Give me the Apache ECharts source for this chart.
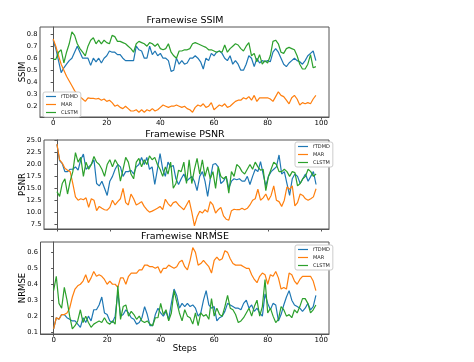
<!DOCTYPE html>
<html><head><meta charset="utf-8">
<script src="https://cdn.jsdelivr.net/npm/echarts@6/dist/echarts.min.js"></script>
<style>html,body{margin:0;padding:0;background:#fff}#c{width:474px;height:362px}</style>
</head><body><div id="c"></div>
<script>
const seriesNames = ['fTDMD', 'MAR', 'CLSTM'];
const xTicks = [0, 20, 40, 60, 80, 100];
const ssimTicks = [0.2, 0.3, 0.4, 0.5, 0.6, 0.7, 0.8];
const psnrTicks = [7.5, 10.0, 12.5, 15.0, 17.5, 20.0, 22.5, 25.0];
const nrmseTicks = [0.1, 0.2, 0.3, 0.4, 0.5, 0.6];

const ssimTDMD = [0.75,0.68,0.58,0.48,0.52,0.55,0.58,0.6,0.65,0.7,
0.65,0.6,0.6,0.6,0.54,0.6,0.57,0.6,0.56,0.6,
0.62,0.66,0.65,0.65,0.63,0.63,0.6,0.58,0.58,0.58,
0.58,0.7,0.67,0.66,0.6,0.6,0.7,0.63,0.66,0.62,
0.64,0.6,0.6,0.58,0.49,0.5,0.6,0.55,0.58,0.55,
0.56,0.6,0.6,0.62,0.6,0.57,0.51,0.6,0.58,0.64,
0.62,0.65,0.66,0.64,0.6,0.58,0.62,0.55,0.58,0.55,
0.5,0.5,0.55,0.62,0.6,0.53,0.6,0.56,0.58,0.57,
0.58,0.57,0.65,0.68,0.65,0.6,0.55,0.53,0.56,0.58,
0.6,0.58,0.57,0.55,0.58,0.62,0.64,0.66,0.58];
const ssimMAR = [0.76,0.7,0.62,0.55,0.5,0.45,0.41,0.37,0.33,0.3,
0.28,0.26,0.24,0.27,0.265,0.265,0.26,0.265,0.25,0.26,
0.24,0.25,0.23,0.2,0.21,0.19,0.18,0.2,0.18,0.16,
0.16,0.17,0.15,0.17,0.15,0.17,0.16,0.18,0.16,0.17,
0.19,0.21,0.2,0.19,0.2,0.2,0.21,0.2,0.19,0.2,
0.18,0.17,0.15,0.19,0.21,0.2,0.22,0.19,0.2,0.23,
0.17,0.19,0.21,0.2,0.22,0.19,0.2,0.22,0.24,0.25,
0.25,0.27,0.26,0.28,0.25,0.29,0.24,0.27,0.27,0.27,
0.27,0.26,0.24,0.28,0.32,0.29,0.28,0.25,0.22,0.27,
0.29,0.26,0.21,0.23,0.22,0.23,0.22,0.26,0.29];
const ssimCLSTM = [0.59,0.59,0.65,0.67,0.56,0.65,0.72,0.82,0.79,0.72,
0.68,0.65,0.62,0.7,0.75,0.77,0.72,0.75,0.72,0.75,
0.73,0.72,0.79,0.78,0.74,0.74,0.73,0.72,0.7,0.68,
0.65,0.72,0.74,0.73,0.72,0.7,0.73,0.72,0.7,0.72,
0.68,0.67,0.68,0.72,0.65,0.62,0.6,0.66,0.66,0.67,
0.67,0.68,0.72,0.73,0.72,0.71,0.7,0.69,0.67,0.67,
0.66,0.65,0.66,0.65,0.71,0.65,0.68,0.7,0.72,0.71,
0.68,0.66,0.7,0.73,0.62,0.64,0.57,0.63,0.55,0.58,
0.56,0.62,0.74,0.75,0.72,0.65,0.64,0.68,0.69,0.68,
0.67,0.62,0.55,0.51,0.51,0.55,0.63,0.52,0.53];

const psnrTDMD = [24.2,20.8,20.2,18.5,18.5,19,19,19.5,18.8,21,
22.2,19,19.5,20,21,16,15.5,16.5,15,13.5,
16.5,17.5,19,20,19.5,17.5,18.5,18.5,18.8,18,
19.5,20,21.5,20,21.5,19,19.5,15.8,19,22.3,
19,17.5,20.5,19.5,19.8,17,15.8,17,18,16.5,
17,17.5,16.5,14.5,17.5,18.5,16.5,13.3,17,20,
20.2,19.5,16,16.5,17.5,15,16.5,17,16.8,17,
16.5,16.5,17.5,15.8,17.5,19,18.5,20.6,18,15.5,
17.5,18.5,19,19.5,22,18,18.5,16,13.5,17,
18,17.5,16,17,18,16.5,17.5,18.5,15.8];
const psnrMAR = [24.3,21,20.3,19.2,18.8,18.5,16,13.2,12.5,12.8,
12.6,13,11,12.8,12.5,10.3,11.2,10.8,10.5,10.4,
11,12.5,11.5,12.2,12.8,15,12,11.5,13.8,12.8,
11.5,11.8,12.2,11.2,10.5,10,10.2,10.5,10.8,11.2,
10.5,12.7,11.8,11.2,12,12.2,11.5,11,10.5,11.5,
12.5,10,7.1,9.0,10.2,9.8,10.5,10,12.2,11.5,
9.8,10.5,11,9.2,8.5,8.3,10.3,10.6,10.5,10.5,
10.8,10.5,10.8,11.5,12.5,12.8,14.8,12.5,13,13.8,
12.5,13.5,15.5,12.5,12.2,11.2,12.5,15.3,14.8,15.5,
11.3,12,13.8,13.5,12.8,12.5,12.8,13.2,14.9];
const psnrCLSTM = [14.3,13.3,16,17,13.8,16.5,18.5,22.5,20.5,21.5,
17.5,20.5,19,20,21.7,20.5,20,19,17.5,20,
21,19.5,21,20,16.5,19,21.5,20.5,18,17,
20.5,21.3,19.5,21,20,21.8,21,21.5,20,19,
17.5,19.5,18,20.5,15,16,18.8,18.5,20.5,16,
21,16,19,21.3,18,21,17.5,19.5,17,18.5,
15,19.5,17.5,17,17.5,14,18.5,17.5,20,19.5,
18.5,18,19,20,19,20.5,19.5,18.8,19,14.5,
17.5,19,20.5,20,18.5,18.5,19,18.5,17.5,18.5,
18.3,15.5,16,17,17.5,19,18.5,17.5,18];

const nrmseTDMD = [0.12,0.19,0.18,0.21,0.21,0.19,0.18,0.17,0.17,0.15,
0.13,0.19,0.16,0.2,0.17,0.24,0.24,0.27,0.32,0.22,
0.21,0.17,0.16,0.2,0.35,0.2,0.21,0.24,0.22,0.19,
0.18,0.15,0.16,0.19,0.26,0.21,0.14,0.14,0.21,0.25,
0.22,0.2,0.23,0.18,0.28,0.37,0.33,0.25,0.28,0.26,
0.28,0.26,0.27,0.25,0.2,0.22,0.3,0.36,0.27,0.25,
0.26,0.17,0.19,0.2,0.23,0.28,0.27,0.26,0.25,0.25,
0.24,0.28,0.3,0.25,0.27,0.23,0.25,0.22,0.2,0.34,
0.28,0.24,0.28,0.27,0.17,0.21,0.27,0.32,0.36,0.3,
0.27,0.26,0.25,0.23,0.25,0.28,0.24,0.26,0.33];
const nrmseMAR = [0.12,0.19,0.18,0.21,0.21,0.22,0.25,0.32,0.37,0.39,
0.4,0.42,0.46,0.41,0.44,0.48,0.45,0.46,0.45,0.43,
0.4,0.42,0.4,0.4,0.38,0.44,0.44,0.4,0.45,0.47,
0.47,0.47,0.49,0.49,0.52,0.52,0.51,0.51,0.5,0.51,
0.47,0.5,0.5,0.52,0.51,0.5,0.51,0.54,0.55,0.51,
0.49,0.55,0.63,0.6,0.52,0.53,0.55,0.53,0.51,0.47,
0.55,0.57,0.55,0.56,0.61,0.6,0.56,0.53,0.52,0.52,
0.52,0.51,0.5,0.5,0.46,0.43,0.41,0.45,0.47,0.46,
0.4,0.46,0.45,0.48,0.44,0.37,0.38,0.37,0.47,0.46,
0.42,0.4,0.43,0.45,0.45,0.45,0.45,0.42,0.36];
const nrmseCLSTM = [0.36,0.45,0.28,0.25,0.38,0.3,0.2,0.12,0.14,0.17,
0.24,0.16,0.2,0.16,0.13,0.15,0.16,0.17,0.16,0.19,
0.16,0.15,0.17,0.15,0.39,0.18,0.26,0.27,0.2,0.23,
0.21,0.18,0.2,0.17,0.16,0.17,0.15,0.14,0.19,0.19,
0.28,0.21,0.24,0.17,0.22,0.36,0.29,0.22,0.17,0.24,
0.2,0.19,0.15,0.22,0.14,0.22,0.2,0.21,0.18,0.31,
0.2,0.25,0.21,0.2,0.26,0.33,0.25,0.24,0.21,0.16,
0.17,0.19,0.22,0.25,0.2,0.26,0.3,0.2,0.26,0.43,
0.22,0.25,0.2,0.16,0.18,0.26,0.24,0.2,0.21,0.19,
0.24,0.22,0.26,0.31,0.31,0.28,0.22,0.24,0.27];

const colors = ['#1f77b4', '#ff7f0e', '#2ca02c'];
const FONT = 'DejaVu Sans';
const panels = [
  {title: 'Framewise SSIM', yName: 'SSIM', ticks: ssimTicks, min: 0.11, max: 0.86, dec: 1,
   data: [ssimTDMD, ssimMAR, ssimCLSTM], grid: {left: 40, width: 289, top: 27, height: 90}, xLabels: true,
   legend: {left: 43, top: 92}, titleTop: 16, nameGap: 13},
  {title: 'Framewise PSNR', yName: 'PSNR', ticks: psnrTicks, min: 6.45, max: 25.15, dec: 1,
   data: [psnrTDMD, psnrMAR, psnrCLSTM], grid: {left: 44, width: 285, top: 140, height: 89}, xLabels: false,
   legend: {left: 295, top: 142}, titleTop: 130, nameGap: 17},
  {title: 'Framewise NRMSE', yName: 'NRMSE', ticks: nrmseTicks, min: 0.088, max: 0.665, dec: 1,
   data: [nrmseTDMD, nrmseMAR, nrmseCLSTM], grid: {left: 40.5, width: 288.5, top: 242, height: 92}, xLabels: true,
   legend: {left: 295, top: 245}, titleTop: 232, nameGap: 13}
];

const option = {
  animation: false,
  backgroundColor: '#fff',
  title: [], grid: [], xAxis: [], yAxis: [], series: [], legend: []
};
panels.forEach((p, gi) => {
  option.title.push({text: p.title, left: 185, top: p.titleTop, textAlign: 'center', padding: 0,
    textStyle: {fontFamily: FONT, fontSize: 9.5, fontWeight: 'normal', color: '#000'}});
  option.grid.push({left: p.grid.left, width: p.grid.width, top: p.grid.top, height: p.grid.height,
    show: true, borderColor: '#555', borderWidth: 1, backgroundColor: '#fff'});
  option.xAxis.push({type: 'value', gridIndex: gi, min: -4.9, max: 102.9,
    name: gi === 2 ? 'Steps' : '', nameLocation: 'middle', nameGap: 10, nameMoveOverlap: false,
    nameTextStyle: {fontFamily: FONT, fontSize: 8.5, color: '#000'},
    axisLine: {show: true, onZero: false, lineStyle: {color: '#555'}},
    axisTick: {show: true, length: 2.5, lineStyle: {color: '#555'}, customValues: xTicks},
    axisLabel: {show: p.xLabels, fontFamily: FONT, fontSize: 7, color: '#000', margin: 2.5,
      customValues: xTicks},
    splitLine: {show: false}});
  option.yAxis.push({type: 'value', gridIndex: gi, min: p.min, max: p.max,
    name: p.yName, nameLocation: 'middle', nameGap: p.nameGap, nameRotate: 90, nameMoveOverlap: false,
    nameTextStyle: {fontFamily: FONT, fontSize: 8.5, color: '#000'},
    axisLine: {show: true, lineStyle: {color: '#555'}},
    axisTick: {show: true, length: 2.5, lineStyle: {color: '#555'}, customValues: p.ticks},
    axisLabel: {fontFamily: FONT, fontSize: 6.7, color: '#000', margin: 2.5,
      customValues: p.ticks, formatter: v => v.toFixed(p.dec)},
    splitLine: {show: false}});
  p.data.forEach((arr, si) => {
    option.series.push({type: 'line', name: seriesNames[si], xAxisIndex: gi, yAxisIndex: gi,
      data: arr.map((v, i) => [i, v]), symbol: 'none', smooth: false,
      lineStyle: {color: colors[si], width: 1.2}, itemStyle: {color: colors[si]}, z: 2 + si});
  });
  option.legend.push({orient: 'vertical', left: p.legend.left, top: p.legend.top,
    data: seriesNames.map(n => ({name: n, icon: 'rect'})), itemWidth: 10, itemHeight: 1.2, itemGap: 3,
    padding: [2, 3, 2, 3], backgroundColor: '#fff', borderColor: '#ccc', borderWidth: 1, borderRadius: 2,
    textStyle: {fontFamily: FONT, fontSize: 5, color: '#222'},
    selectedMode: false});
});
const chart = echarts.init(document.getElementById('c'), null, {renderer: 'canvas'});
chart.setOption(option);
</script></body></html>
